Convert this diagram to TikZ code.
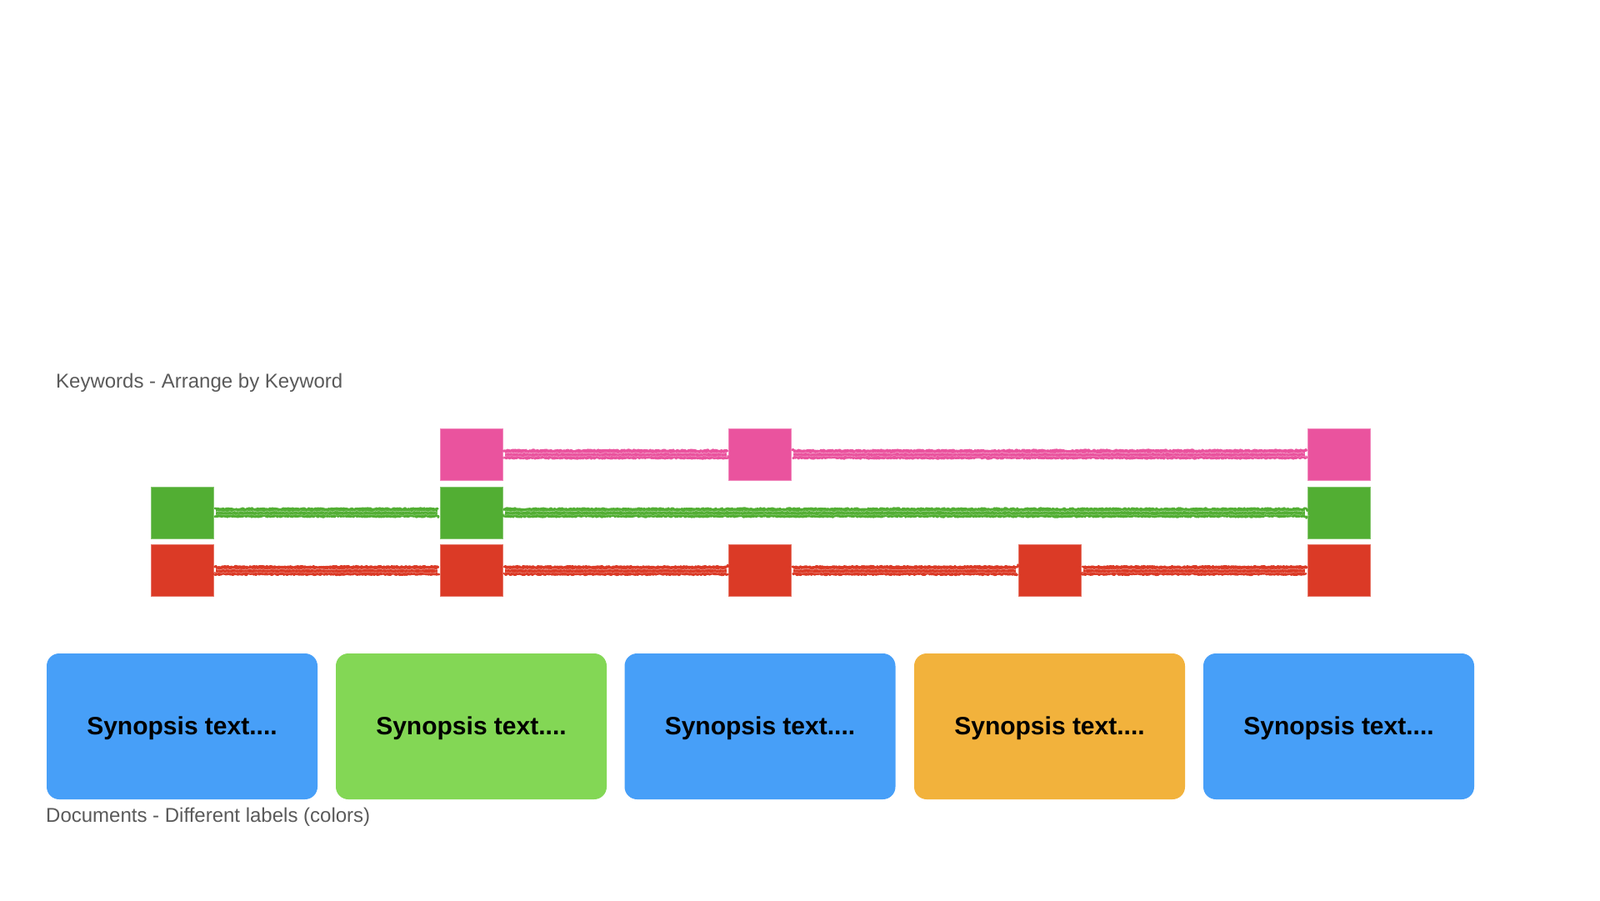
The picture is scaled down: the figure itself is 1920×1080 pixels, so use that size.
\documentclass[tikz,border=0pt]{standalone}
\usepackage{fontspec}
\setmainfont{Liberation Sans}
\usetikzlibrary{decorations.pathmorphing}
\definecolor{kpink}{HTML}{EA539E}
\definecolor{kgreen}{HTML}{52AE33}
\definecolor{kred}{HTML}{DB3A26}
\definecolor{dblue}{HTML}{479FF8}
\definecolor{dgreen}{HTML}{83D755}
\definecolor{dorange}{HTML}{F2B23C}
\definecolor{lbl}{HTML}{5A5A5A}
\newcommand{\syn}{\raisebox{0pt}[\dimexpr\height+5pt\relax][\depth]{Synopsis text....}}
\tikzset{
  kw/.style={rectangle, fill=#1, draw=#1!70!white, line width=0.6pt, minimum width=75pt, minimum height=62pt, inner sep=0pt},
  doc/.style={rectangle, rounded corners=15pt, fill=#1, minimum width=325pt, minimum height=175pt, inner sep=0pt,
    font=\fontsize{30}{36}\selectfont\bfseries, text=black},
  caption/.style={anchor=west, inner sep=0pt, text=lbl, font=\fontsize{24}{29}\selectfont},
  rough/.style={decorate, decoration={random steps, segment length=1.2pt, amplitude=0.9pt}, line join=round, line cap=round},
  pencil/.style={draw=#1, line width=9pt, shorten <=2.5pt, shorten >=2.5pt,
    postaction={draw=#1, line width=2.5pt, rough, transform canvas={yshift=4.5pt}},
    postaction={draw=#1, line width=2.5pt, rough, transform canvas={yshift=-4.5pt}},
    postaction={draw=white, line width=0.6pt, opacity=0.45, rough, transform canvas={yshift=1.5pt}},
    postaction={draw=white, line width=0.5pt, opacity=0.35, rough, transform canvas={yshift=-2.5pt}}}
}
\begin{document}
\begin{tikzpicture}[x=1pt,y=-1pt]
\useasboundingbox[fill=white] (0,0) rectangle (1920,1080);
% captions
\node[caption] (kwlabel) at (67,459) {Keywords - Arrange by Keyword};
\node[caption] (doclabel) at (55,980) {Documents - Different labels (colors)};
% keyword squares
\node[kw=kpink] (p2) at (565.5,545) {};
\node[kw=kpink] (p3) at (912,545) {};
\node[kw=kpink] (p5) at (1606.5,545) {};
\node[kw=kgreen] (g1) at (218.5,615) {};
\node[kw=kgreen] (g2) at (565.5,615) {};
\node[kw=kgreen] (g5) at (1606.5,615) {};
\node[kw=kred] (r1) at (218.5,684.5) {};
\node[kw=kred] (r2) at (565.5,684.5) {};
\node[kw=kred] (r3) at (912,684.5) {};
\node[kw=kred] (r4) at (1259.5,684.5) {};
\node[kw=kred] (r5) at (1606.5,684.5) {};
% connectors
\draw[pencil=kpink] (p2.east) -- (p3.west);
\draw[pencil=kpink] (p3.east) -- (p5.west);
\draw[pencil=kgreen] (g1.east) -- (g2.west);
\draw[pencil=kgreen] (g2.east) -- (g5.west);
\draw[pencil=kred] (r1.east) -- (r2.west);
\draw[pencil=kred] (r2.east) -- (r3.west);
\draw[pencil=kred] (r3.east) -- (r4.west);
\draw[pencil=kred] (r4.east) -- (r5.west);
% documents
\node[doc=dblue] (d1) at (218.5,871.5) {\syn};
\node[doc=dgreen] (d2) at (565.5,871.5) {\syn};
\node[doc=dblue] (d3) at (912,871.5) {\syn};
\node[doc=dorange] (d4) at (1259.5,871.5) {\syn};
\node[doc=dblue] (d5) at (1606.5,871.5) {\syn};
\end{tikzpicture}
\end{document}
